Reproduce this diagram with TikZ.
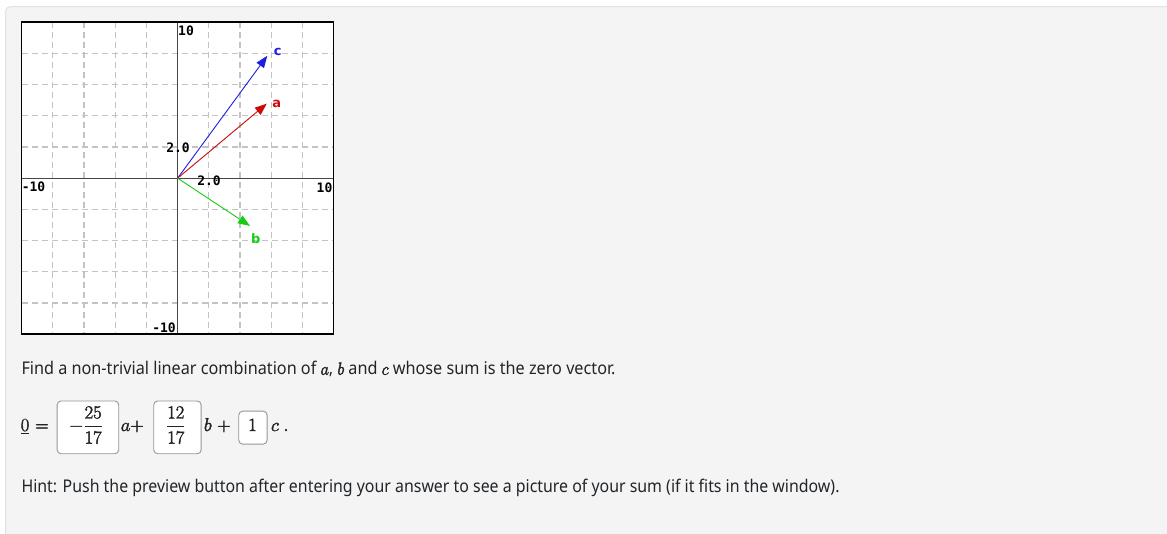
\documentclass[tikz,border=0pt]{standalone}
\usepackage{fix-cm}
\usepackage{amsmath}
\usepackage[no-math]{fontspec}
\usepackage{graphicx}
\usetikzlibrary{arrows.meta}
\setmainfont{Noto Sans}
\newfontfamily\monofam{DejaVu Sans Mono}
\newfontfamily\labfam{DejaVu Sans}
\definecolor{textc}{RGB}{33,37,41}
\definecolor{panelc}{RGB}{244,244,244}
\definecolor{panelb}{RGB}{226,226,226}
\definecolor{boxc}{RGB}{150,150,150}
\definecolor{gridc}{RGB}{195,195,195}
\definecolor{axc}{RGB}{70,70,70}
\definecolor{vblue}{RGB}{30,30,225}
\definecolor{vred}{RGB}{205,10,10}
\definecolor{vgreen}{RGB}{20,205,20}
\newcommand{\eqsize}{\fontsize{18.5}{20}\selectfont}
\newcommand{\heavy}[1]{\special{pdf:literal direct 0.45 w 2 Tr}#1\special{pdf:literal direct 0 Tr}}
\begin{document}
\begin{tikzpicture}[x=1pt,y=-1pt,
  txt/.style={inner sep=0pt, outer sep=0pt, text=textc},
  ansbox/.style={draw=boxc, fill=white, rounded corners=4pt, line width=0.9pt, inner sep=0pt, anchor=north west},
  gridl/.style={draw=gridc, line width=1.2pt, dash pattern=on 6pt off 4pt},
  axl/.style={draw=axc, line width=1.1pt},
  vecarrow/.style={line width=0.9pt, -{Triangle[length=12pt,width=9pt]}},
  axlab/.style={inner sep=0pt, text=black, font=\monofam\bfseries\fontsize{13}{13}\selectfont},
  veclab/.style={inner sep=0pt, font=\labfam\bfseries\fontsize{13}{13}\selectfont}]
\useasboundingbox (0,0) rectangle (1167,533);
\fill[white] (0,0) rectangle (1167,533);
\draw[draw=panelb, fill=panelc, line width=1pt, rounded corners=5pt] (5.5,6.5) rectangle (1200,580);
% graph
\fill[white] (21.6,22.2) rectangle (333.6,334.2);
\begin{scope}[shift={(177.6,178.2)}, x=15.6pt, y=15.6pt]
  \foreach \i in {-8,-6,-4,-2,2,4,6,8} {
    \draw[gridl] (\i,10) -- (\i,-10);
    \draw[gridl] (-10,\i) -- (10,\i);
  }
  \draw[axl] (-10,0) -- (10,0);
  \draw[axl] (0,-10) -- (0,10);
  \draw[black, line width=1.5pt] (-10,-10) rectangle (10,10);
  \coordinate (O) at (0,0);
  \coordinate (ctip) at (5.75,7.85);
  \coordinate (atip) at (5.72,4.78);
  \coordinate (btip) at (4.64,-3.06);
  \draw[vecarrow, vblue] (O) -- (ctip);
  \draw[vecarrow, vred] (O) -- (atip);
  \draw[vecarrow, vgreen] (O) -- (btip);
\end{scope}
\node[veclab, text=vblue] (clab) at (277.8,52) {c};
\node[veclab, text=vred] (alab) at (276.7,104) {a};
\node[veclab, text=vgreen] (blab) at (255.8,238.3) {b};
\node[axlab] (ytop) at (186,31) {10};
\node[axlab] (ytwo) at (178,148) {2.0};
\node[axlab] (xtwo) at (209,180.5) {2.0};
\node[axlab] (xleft) at (33.5,187) {-10};
\node[axlab] (xright) at (324.5,188) {10};
\node[axlab] (ybot) at (164,328) {-10};
% text
\node[txt, anchor=base west] (find) at (21.5,374.7) {\fontsize{17.5}{21}\selectfont\resizebox{594pt}{\height}{Find a non-trivial linear combination of \heavy{$a$}, \heavy{$b$} and \heavy{$c$} whose sum is the zero vector.}};
% equation
\node[txt, anchor=base west] (zero) at (20.8,431) {\eqsize\heavy{$\underline{0}$}};
\node[txt, anchor=base west] (eq) at (35.3,431) {\eqsize\heavy{$=$}};
\node[ansbox, minimum width=61.6pt, minimum height=52.8pt] (box1) at (56.7,400.5) {};
\node[txt, anchor=base] (f1) at (86,431) {\eqsize\heavy{$-\dfrac{25}{17}$}};
\node[txt, anchor=base west] (aplus) at (120.8,431) {\eqsize\heavy{$a+$}};
\node[ansbox, minimum width=47.4pt, minimum height=52.8pt] (box2) at (153.3,400.5) {};
\node[txt, anchor=base] (f2) at (175.8,431) {\eqsize\heavy{$\dfrac{12}{17}$}};
\node[txt, anchor=base west] (bv) at (204,431) {\eqsize\heavy{$b$}};
\node[txt, anchor=base west] (plus2) at (217.3,431) {\eqsize\heavy{$+$}};
\node[ansbox, minimum width=28.4pt, minimum height=33pt] (box3) at (238.3,410.7) {};
\node[txt, anchor=base] (one) at (252.5,431) {\eqsize\heavy{$1$}};
\node[txt, anchor=base west] (cv) at (271,431) {\eqsize\heavy{$c$}};
\node[txt, anchor=base west] (dot) at (283.5,431) {\eqsize\heavy{$.$}};
\node[txt, anchor=base west] (hint) at (21.5,492.7) {\fontsize{17.5}{21}\selectfont\resizebox{818pt}{\height}{Hint: Push the preview button after entering your answer to see a picture of your sum (if it fits in the window).}};
\end{tikzpicture}
\end{document}
